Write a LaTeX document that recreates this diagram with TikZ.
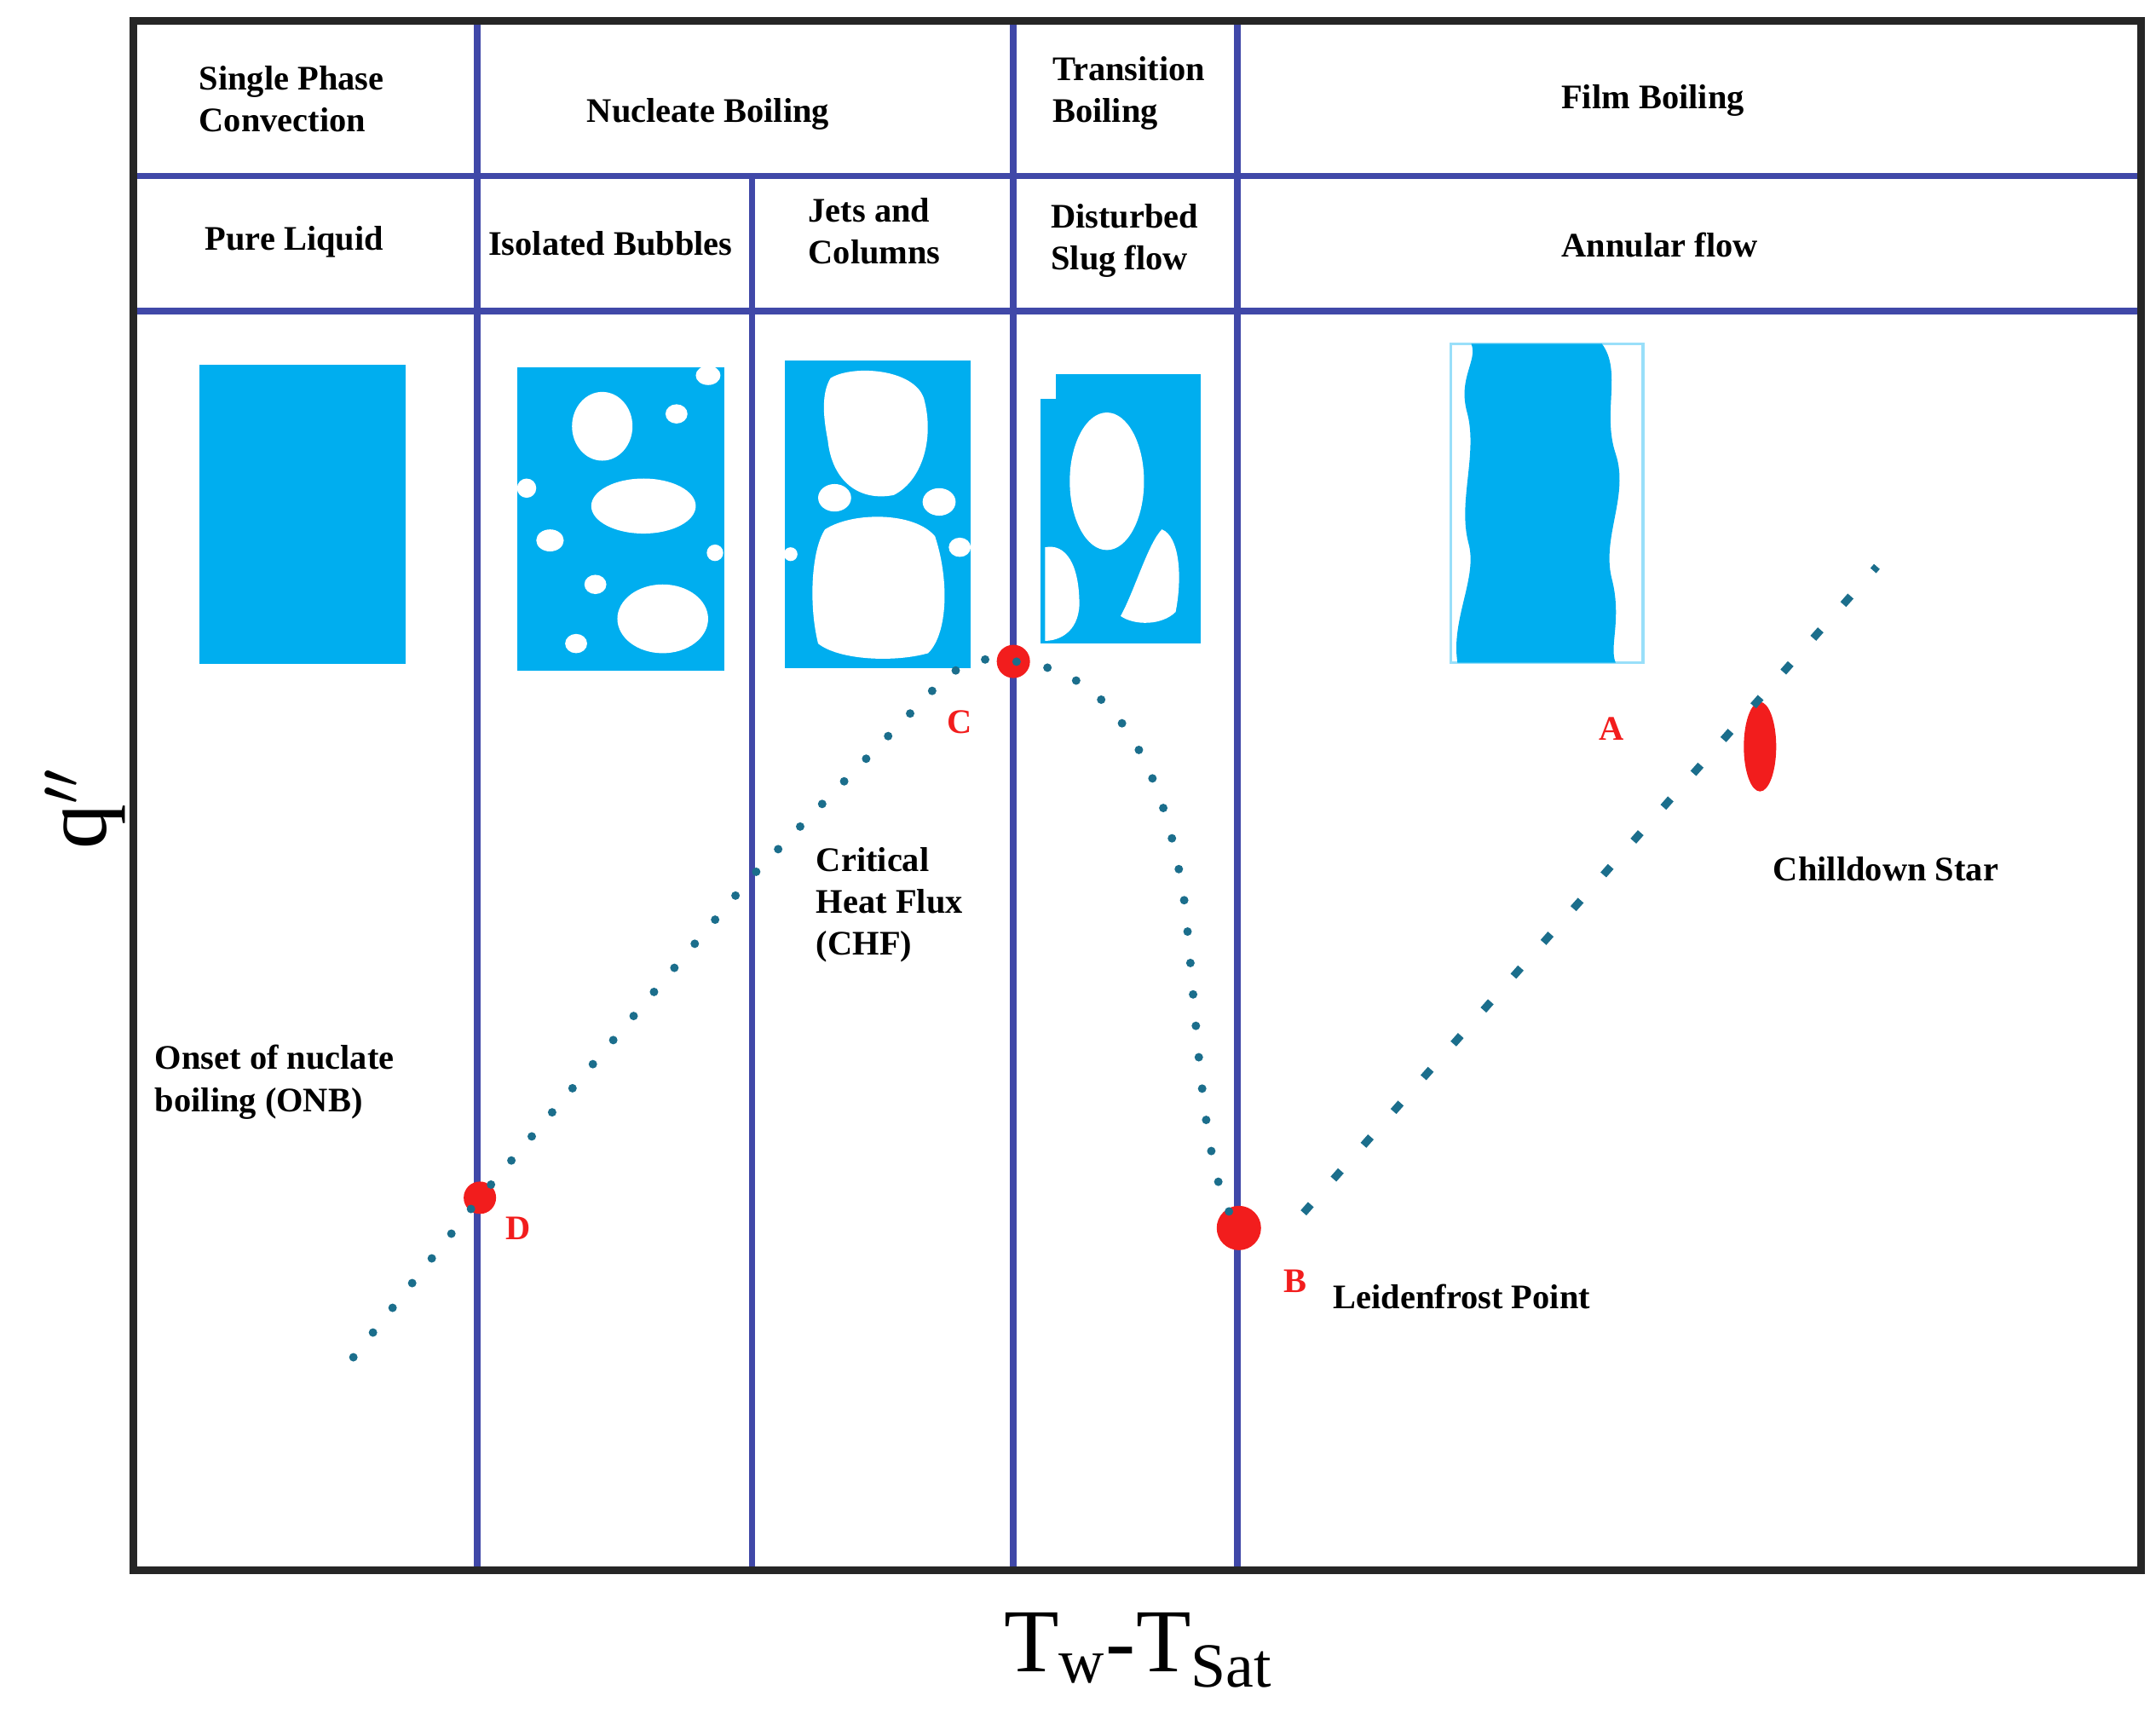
\documentclass[tikz,border=0pt]{standalone}
\usepackage{fontspec}
\setmainfont{Liberation Serif}
\usetikzlibrary{shapes.geometric}
\begin{document}
\begin{tikzpicture}[x=0.016135cm,y=-0.016135cm,
  grid/.style={draw=gridblue,line width=2.2pt},
  lab/.style={font=\bfseries\fontsize{11.5}{14}\selectfont,align=left,anchor=west},
  hd/.style={font=\bfseries\fontsize{11.5}{14}\selectfont,align=left},
  red lab/.style={font=\bfseries\fontsize{11.5}{14}\selectfont,text=ptred},
  pt/.style={circle,fill=ptred,inner sep=0pt},
  liquid/.style={fill=liq},
  bub/.style={fill=white}]
\definecolor{gridblue}{HTML}{4048A8}
\definecolor{liq}{HTML}{00AEEF}
\definecolor{dotc}{HTML}{1B6E8C}
\definecolor{ptred}{HTML}{F21D1D}
\useasboundingbox (0,0) rectangle (1568,1250);
% grid
\draw[grid] (97,128) -- (1557,128) (97,226) -- (1557,226);
\draw[grid] (347,15) -- (347,1145) (547,128) -- (547,1142) (737,15) -- (737,1142) (900,15) -- (900,1142);
\draw[line width=2.6pt,draw=black!85] (97,15) rectangle (1557,1142);
% headers
\node[hd] at (212,72) {Single Phase\\Convection};
\node[hd] at (515,83) {Nucleate Boiling};
\node[hd] at (821,68) {Transition\\Boiling};
\node[hd] at (1202,73) {Film Boiling};
\node[hd] at (214,176) {Pure Liquid};
\node[hd] at (444,177) {Isolated Bubbles};
\node[hd] at (636,168) {Jets and\\Columns};
\node[hd] at (818,175) {Disturbed\\Slug flow};
\node[hd] at (1207,178) {Annular flow};
% pictures
\fill[liquid] (145,265) rectangle (295,483);
\fill[liquid] (376,267) rectangle (527,488);
\foreach \x/\y/\a/\b in {438/310/22/25, 515/273/9/7, 492/301/8/7, 468/368/38/20, 383/355/7/7, 400/393/10/8, 520/402/6/6, 433/425/8/7, 482/450/33/25, 419/468/8/7}
  \fill[bub] (\x,\y) ellipse [x radius=\a, y radius=\b];
\fill[liquid] (571,262) rectangle (706,486);
\fill[bub] (604,275) .. controls (620,265) and (665,268) .. (672,290) .. controls (680,320) and (670,350) .. (650,360) .. controls (625,365) and (605,350) .. (602,320) .. controls (598,300) and (598,285) .. (604,275) -- cycle;
\fill[bub] (600,385) .. controls (620,372) and (665,372) .. (680,390) .. controls (690,420) and (690,460) .. (675,475) .. controls (650,482) and (610,480) .. (595,468) .. controls (588,440) and (590,400) .. (600,385) -- cycle;
\foreach \x/\y/\a/\b in {607/362/12/10, 683/365/12/10, 575/403/5/5, 698/398/8/7}
  \fill[bub] (\x,\y) ellipse [x radius=\a, y radius=\b];
\fill[liquid] (757,272) rectangle (873,468);
\fill[bub] (805,350) ellipse [x radius=27, y radius=50];
\fill[bub] (760,398) .. controls (775,395) and (785,410) .. (785,440) .. controls (784,460) and (770,466) .. (760,466) -- cycle;
\fill[bub] (845,385) .. controls (858,390) and (860,420) .. (855,445) .. controls (845,455) and (825,455) .. (815,448) .. controls (825,430) and (835,395) .. (845,385) -- cycle;
\fill[bub] (757,272) rectangle (768,290);
\draw[liq!40,line width=1pt] (1055,250) rectangle (1195,482);
\fill[liquid] (1070,250) -- (1165,250) .. controls (1180,270) and (1165,300) .. (1175,330) .. controls (1185,360) and (1165,390) .. (1172,420) .. controls (1180,450) and (1170,470) .. (1175,482) -- (1060,482) .. controls (1055,450) and (1075,420) .. (1068,395) .. controls (1060,365) and (1075,330) .. (1067,300) .. controls (1060,275) and (1075,262) .. (1070,250) -- cycle;
% points
\coordinate (S) at (257,987);
\node[pt,minimum size=0.38cm] (D) at (349,871) {};
\node[pt,minimum size=0.39cm] (C) at (737,481) {};
\node[pt,minimum size=0.52cm] (B) at (901,893) {};
\coordinate (E) at (1365,412);
\node[ellipse,fill=ptred,inner sep=0pt,minimum width=0.38cm,minimum height=1.05cm] (A) at (1280,543) {};
% curves
\draw[dotc,line width=0.1cm,line cap=round,dash pattern=on 0pt off 0.37cm]
  (S) -- (D.center) -- (547,637) -- (690,490) .. controls (715,478) .. (C.center)
  .. controls (800,485) and (845,540) .. (862,660) .. controls (872,760) and (875,860) .. (B.center);
\draw[dotc,line width=0.09cm,dash pattern=on 0.13cm off 0.4cm] (948,882) -- (E);
% labels
\node[red lab] at (698,525) {C};
\node[red lab] at (377,893) {D};
\node[red lab] at (942,932) {B};
\node[red lab] at (1172,530) {A};
\node[lab] at (962,943) {Leidenfrost Point};
\node[lab] at (1282,632) {Chilldown Star};
\node[lab] at (586,658) {Critical\\Heat Flux\\(CHF)};
\node[lab] at (105,787) {Onset of nuclate\\boiling (ONB)};
\node[rotate=90,font=\fontsize{30}{34}\selectfont] at (62,588) {q$''$};
\node[font=\fontsize{30}{34}\selectfont] at (828,1200) {T\textsubscript{w}-T\textsubscript{Sat}};
\end{tikzpicture}
\end{document}
